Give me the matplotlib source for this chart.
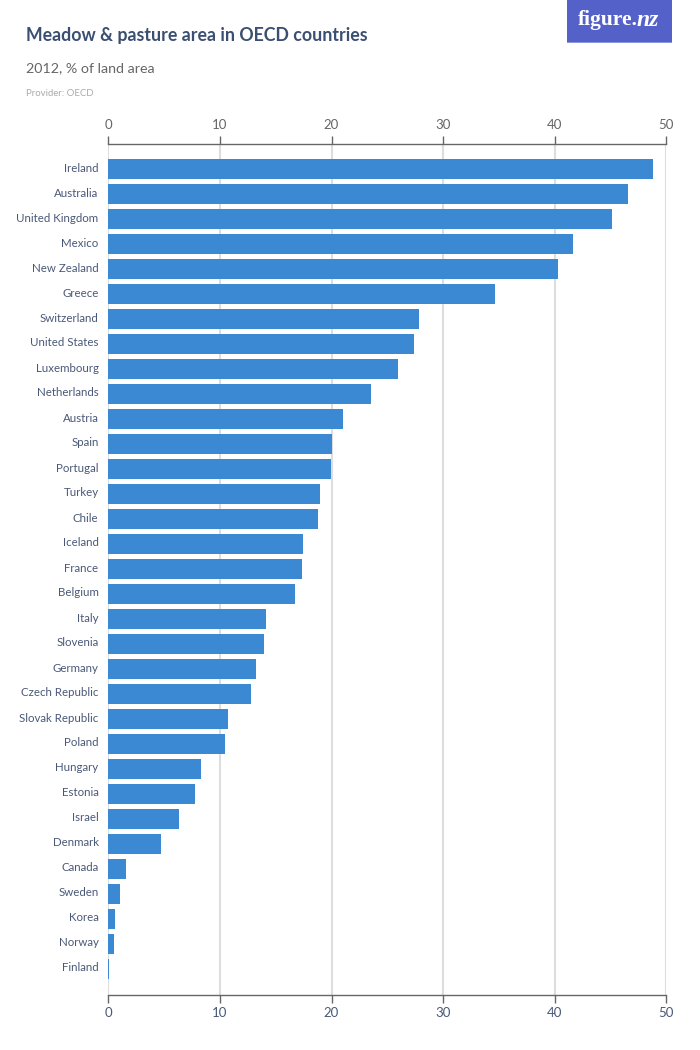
import matplotlib
matplotlib.use("Agg")
import matplotlib.pyplot as plt
from matplotlib.patches import Rectangle
from matplotlib.transforms import ScaledTranslation

countries = ["Ireland","Australia","United Kingdom","Mexico","New Zealand","Greece","Switzerland",
"United States","Luxembourg","Netherlands","Austria","Spain","Portugal","Turkey","Chile","Iceland",
"France","Belgium","Italy","Slovenia","Germany","Czech Republic","Slovak Republic","Poland","Hungary",
"Estonia","Israel","Denmark","Canada","Sweden","Korea","Norway","Finland"]
values = [48.8,46.6,45.1,41.6,40.3,34.65,27.8,27.4,26.0,23.5,21.05,20.05,19.95,19.0,18.8,17.45,17.4,16.7,
14.15,13.95,13.2,12.8,10.7,10.45,8.3,7.75,6.3,4.7,1.6,1.05,0.6,0.5,0.1]
ticks = [0,10,20,30,40,50]

W, H = 700, 1050
plt.rcParams['font.family'] = ['Lato', 'DejaVu Sans']
fig = plt.figure(figsize=(W/100, H/100), dpi=100, facecolor='white')
L, R, T, B = 108.3, 666.3, 143.5, 994.5
ax = fig.add_axes([L/W, 1-B/H, (R-L)/W, (B-T)/H])
ax.barh(range(len(countries)), values, height=0.8, color='#3b88d3', zorder=3)
ax.set_xlim(0, 50)
ax.set_ylim((B-169)/25, (T-169)/25)
ax.set_yticks(range(len(countries)))
ax.set_yticklabels(countries, fontsize=8.3, color='#4a5878', va='center')
ax.tick_params(axis='y', length=0, pad=7)
shift = ScaledTranslation(0, 1/100, fig.dpi_scale_trans)
for lab in ax.get_yticklabels():
    lab.set_transform(lab.get_transform() + shift)
ax.set_xticks(ticks)
ax.tick_params(axis='x', which='both', top=True, bottom=True, labeltop=True, labelbottom=True,
               length=5.8, width=1, color='#666666', labelsize=9.5, pad=3.5)
for lab in ax.xaxis.get_ticklabels(which='major'):
    lab.set_color('#4a5878')
for t in ax.xaxis.get_major_ticks():
    t.label2.set_color('#666666')
ax.grid(axis='x', color='#dddddd', lw=1.5, zorder=0)
for s in ['left', 'right']:
    ax.spines[s].set_visible(False)
for s in ['top', 'bottom']:
    ax.spines[s].set_color('#666666')
    ax.spines[s].set_linewidth(1)

fig.text(26/W, 1-36/H, "Meadow & pasture area in OECD countries", fontsize=12.8, fontweight='bold',
         color='#3b4f72', va='center', ha='left')
fig.text(26/W, 1-68.5/H, "2012, % of land area", fontsize=10.3, color='#666666', va='center', ha='left')
fig.text(26/W, 1-94/H, "Provider: OECD", fontsize=6.9, color='#aaaaaa', va='center', ha='left')

fig.add_artist(Rectangle((567/W, 1-43/H), 105/W, 43/H, transform=fig.transFigure, facecolor='#5361c8', edgecolor='none'))
fig.add_artist(Rectangle((567/W, 1-43/H), 105/W, 1/H, transform=fig.transFigure, facecolor='#8d97de', edgecolor='none'))
fig.text(578/W, 1-20/H, "figure.", fontsize=15.5, fontweight='bold', family=['Liberation Serif'], color='white', va='center', ha='left')
fig.text(637/W, 1-20/H, "nz", fontsize=17, fontstyle='italic', fontweight='bold', family=['Liberation Serif'], color='white', va='center', ha='left')

fig.savefig("out.png", dpi=100)
